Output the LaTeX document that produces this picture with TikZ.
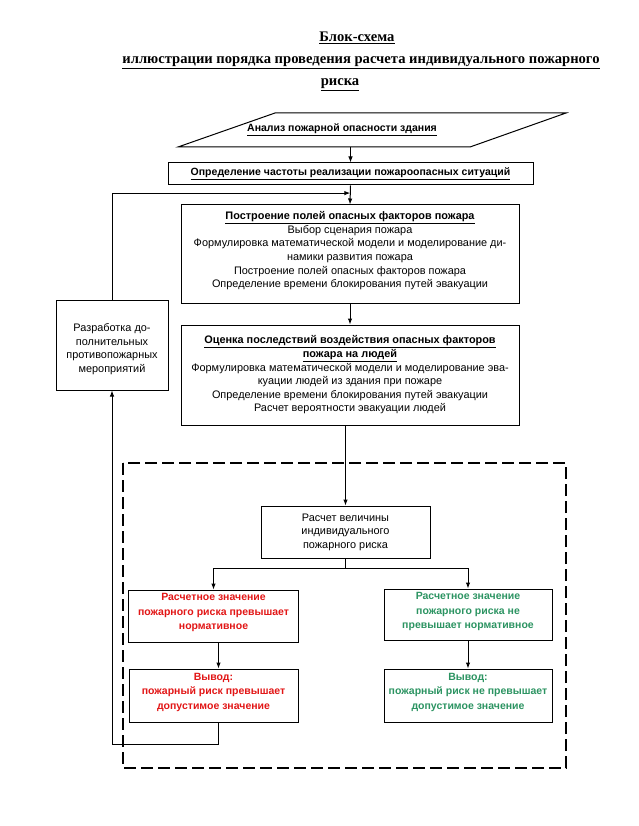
\documentclass[tikz,border=0pt]{standalone}
\usepackage{fontspec}
\setmainfont{Liberation Sans}
\newfontfamily\titlefont{Liberation Serif}
\usepackage{xcolor}
\usepackage{tikz}
\usetikzlibrary{arrows.meta}
\usetikzlibrary{calc}
\definecolor{RiskRed}{RGB}{226,22,22}
\definecolor{RiskGreen}{RGB}{44,148,98}

\begin{document}
\begin{tikzpicture}[x=1pt, y=-1pt, line width=1pt,
	every node/.style={align=center, inner sep=2pt, font=\fontsize{10.9}{13.6}\selectfont},
	box/.style={draw, rectangle},
	bold/.style={font=\fontsize{10.5}{14.5}\selectfont\bfseries},
	head/.style={font=\titlefont\fontsize{14.6}{16}\selectfont\bfseries},
	arr/.style={-{Latex[length=6pt,width=4.5pt]}}]

	\useasboundingbox[fill=white] (0,0) rectangle (638,826);

	\node[head] (T1) at (357,38) {\underline{Блок-схема}};
	\node[head] (T2) at (361,63) {\underline{иллюстрации порядка проведения расчета индивидуального пожарного}};
	\node[head] (T3) at (340,85) {\underline{риска}};

	\draw (275,113) -- (566,113) -- (470,147) -- (178,147) -- cycle;
	\node[bold, minimum height=34] (1) at (342,130) {\underline{Анализ пожарной опасности здания}};
	\node[box, bold, minimum width=365, minimum height=22] (2) at (350.5,174) {\underline{Определение частоты реализации пожароопасных ситуаций}};
	\node[box, minimum width=338, minimum height=98] (3) at (350,254) {\textbf{\underline{Построение полей опасных факторов пожара}}\\Выбор сценария пожара\\Формулировка математической модели и моделирование ди-\\намики развития пожара\\Построение полей опасных факторов пожара\\Определение времени блокирования путей эвакуации\\[-5pt]};
	\node[box, minimum width=338, minimum height=100] (4) at (350,375) {\textbf{\underline{Оценка последствий воздействия опасных факторов}}\\\textbf{\underline{пожара на людей}}\\Формулировка математической модели и моделирование эва-\\куации людей из здания при пожаре\\Определение времени блокирования путей эвакуации\\Расчет вероятности эвакуации людей};
	\node[box, minimum width=112, minimum height=90] (5) at (112,345) {\rule{0pt}{16pt}Разработка до-\\полнительных\\противопожарных\\мероприятий};

	\draw[dash pattern=on 12pt off 5pt, line width=1.2pt] (123,463) rectangle (566,768);

	\node[box, minimum width=169, minimum height=52] (6) at (345.5,532) {Расчет величины\\индивидуального\\пожарного риска};
	\node[box, bold, minimum width=170, minimum height=52, text=RiskRed] (7) at (213.5,616) {Расчетное значение\\пожарного риска превышает\\нормативное\\[-6pt]};
	\node[box, bold, minimum width=168, minimum height=51, text=RiskGreen] (8) at (468,614.5) {Расчетное значение\\пожарного риска не\\превышает нормативное\\[-7pt]};
	\node[box, bold, minimum width=169, minimum height=53, text=RiskRed] (9) at (213.5,695.5) {Вывод:\\пожарный риск превышает\\допустимое значение\\[-6pt]};
	\node[box, bold, minimum width=168, minimum height=53, text=RiskGreen] (10) at (468,695.5) {Вывод:\\пожарный риск не превышает\\допустимое значение\\[-6pt]};

	\draw[arr] (1.south -| 2.north) -- (2.north);
	\draw[arr] (2.south) -- (3.north);
	\draw[arr] (5.north) |- ($(2.south)!0.4!(3.north)$);
	\draw[arr] (3.south) -- (4.north);
	\draw[arr] (4.south -| 6.north) -- (6.north);
	\draw[arr] (6.south) -- ++(0,10) -| (7.north);
	\draw[arr] (6.south) -- ++(0,10) -| (8.north);
	\draw[arr] ([xshift=5pt]7.south) -- ([xshift=5pt]9.north);
	\draw[arr] (8.south) -- (10.north);
	\draw[arr] ([xshift=5pt]9.south) -- ++(0,22) -| (5.south);
\end{tikzpicture}
\end{document}
